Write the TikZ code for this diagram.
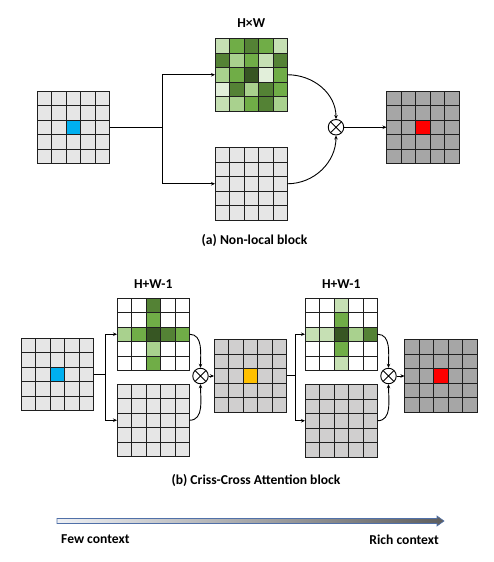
\documentclass[tikz,border=0pt]{standalone}
\usepackage{fontspec}
\setmainfont{Carlito}
\usetikzlibrary{calc,arrows.meta}

\definecolor{cellgray}{HTML}{E6E6E6}
\definecolor{cellmid}{HTML}{D0CFCF}
\definecolor{celldark}{HTML}{A6A6A6}
\definecolor{cellblue}{HTML}{00B0F0}
\definecolor{cellorange}{HTML}{FFC000}
\definecolor{cellred}{HTML}{FF0000}
\definecolor{gA}{HTML}{E2EFDA}
\definecolor{gB}{HTML}{C6E0B4}
\definecolor{gC}{HTML}{A9D18E}
\definecolor{gD}{HTML}{70AD47}
\definecolor{gE}{HTML}{548235}
\definecolor{gF}{HTML}{375623}
\definecolor{barlight}{HTML}{EEF0F4}
\definecolor{bardark}{HTML}{5E5E5E}
\definecolor{baredge}{HTML}{5070A8}

\tikzset{
  gridbox/.style={draw=black!88, line width=0.95pt, minimum size=72.5pt, inner sep=0pt, outer sep=0pt},
  gridline/.style={draw=black!88, line width=0.95pt},
  wire/.style={line width=1.1pt},
  link/.style={line width=0.9pt, -{Stealth[length=4pt,width=3.5pt]}},
  mult/.style={draw, circle, line width=0.9pt, minimum size=15.5pt, inner sep=0pt,
    path picture={\draw[line width=0.9pt] (path picture bounding box.north west) -- (path picture bounding box.south east)
      (path picture bounding box.south west) -- (path picture bounding box.north east);}},
  lbl/.style={font=\fontsize{13.6}{16}\selectfont\bfseries, inner sep=0pt},
}

% 5x5 grid: name, top-left corner, fill, list of row/col/colour
\newcommand{\cellgrid}[4]{%
  \node[gridbox, fill=#3, anchor=north west] (#1) at (#2) {};
  \foreach \r/\c/\col in {#4}
    \fill[\col] ($(#1.north west)+(\c*14.5-14.5,\r*14.5-14.5)$) rectangle +(14.5,14.5);
  \foreach \k in {1,...,4}{
    \draw[gridline] ($(#1.north west)+(\k*14.5,0)$) -- ($(#1.south west)+(\k*14.5,0)$);
    \draw[gridline] ($(#1.north west)+(0,\k*14.5)$) -- ($(#1.north east)+(0,\k*14.5)$);
  }
  \draw[gridline] (#1.north west) rectangle (#1.south east);
}

\begin{document}
\begin{tikzpicture}[x=1pt,y=-1pt]
  \useasboundingbox (0,0) rectangle (494,562);

  % (a) non-local block
  \cellgrid{inA}{37,91}{cellgray}{3/3/cellblue}
  \cellgrid{attA}{215,38.5}{white}{1/1/gB,1/2/gD,1/3/gE,1/4/gD,1/5/gB,
    2/1/gE,2/2/gC,2/3/gD,2/4/gB,2/5/gE,
    3/1/gC,3/2/gD,3/3/gF,3/4/gA,3/5/gD,
    4/1/gA,4/2/gE,4/3/gC,4/4/gE,4/5/gD,
    5/1/gB,5/2/gC,5/3/gD,5/4/gE,5/5/gC}
  \cellgrid{valA}{215,147.5}{cellgray}{}
  \cellgrid{outA}{386.5,91}{celldark}{3/3/cellred}
  \node[mult] (mulA) at (336,127.25) {};

  \node[lbl] (dimA) at (251.25,23.5) {H×W};
  \node[lbl] (capA) at (254.5,240.5) {(a) Non-local block};

  \coordinate (splitA) at ($(inA.east)+(52.5,0)$);
  \draw[wire] (inA.east) -- (splitA);
  \draw[link] (splitA) |- (attA.west);
  \draw[link] (splitA) |- (valA.west);
  \draw[link] (attA.east) to[out=0,in=90] (mulA.north);
  \draw[link] (valA.east) to[out=0,in=-90] (mulA.south);
  \draw[link] (mulA.east) -- (mulA.east -| outA.west);

  % (b) criss-cross attention block
  \cellgrid{inB}{21,338}{cellgray}{3/3/cellblue}
  \cellgrid{attB}{117,298}{white}{1/3/gE,2/3/gD,3/1/gC,3/2/gD,3/3/gF,3/4/gE,3/5/gD,4/3/gC,5/3/gD}
  \cellgrid{valB}{117,384}{cellgray}{}
  \node[mult] (mulB) at (200.5,376) {};
  \cellgrid{midB}{214,339.5}{cellmid}{3/3/cellorange}
  \cellgrid{attC}{305,298}{white}{1/3/gB,2/3/gD,3/1/gB,3/2/gB,3/3/gF,3/4/gC,3/5/gE,4/3/gD,5/3/gB}
  \cellgrid{valC}{305,384.5}{cellmid}{}
  \node[mult] (mulC) at (388.5,376) {};
  \cellgrid{outB}{404.5,339.5}{celldark}{3/3/cellred}

  \node[lbl] (dimB) at (153.25,284) {H+W-1};
  \node[lbl] (dimC) at (341.25,284) {H+W-1};
  \node[lbl] (capB) at (256,480) {(b) Criss-Cross Attention block};

  \coordinate (splitB) at ($(inB.east)+(12,0)$);
  \draw[wire] (inB.east) -- (splitB);
  \draw[link] (splitB) |- (attB.west);
  \draw[link] (splitB) |- (valB.west);
  \draw[link] (attB.east) to[out=0,in=90] (mulB.north);
  \draw[link] (valB.east) to[out=0,in=-90] (mulB.south);
  \draw[link] (mulB.east) -- (mulB.east -| midB.west);

  \coordinate (splitC) at ($(midB.east)+(8.5,0)$);
  \draw[wire] (midB.east) -- (splitC);
  \draw[link] (splitC) |- (attC.west);
  \draw[link] (splitC) |- (valC.west);
  \draw[link] (attC.east) to[out=0,in=90] (mulC.north);
  \draw[link] (valC.east) to[out=0,in=-90] (mulC.south);
  \draw[link] (mulC.east) -- (mulC.east -| outB.west);

  % context bar
  \shadedraw[left color=barlight, right color=bardark, draw=baredge, line width=0.6pt]
    (57,518.5) -- (437,518.5) -- (437,516) -- (444,521) -- (437,526) -- (437,523.5) -- (57,523.5) -- cycle;
  \node[lbl, anchor=west] (few) at (61,539.5) {Few context};
  \node[lbl, anchor=east] (rich) at (439,539.5) {Rich context};
\end{tikzpicture}
\end{document}
